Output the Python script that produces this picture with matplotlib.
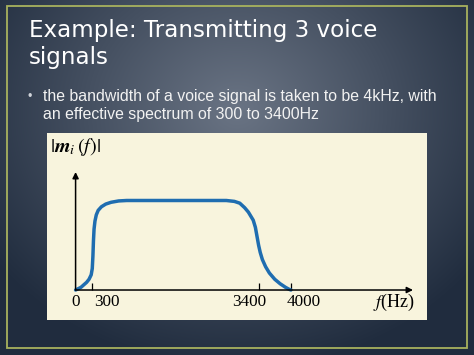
import numpy as np
import matplotlib.pyplot as plt
from matplotlib.patches import Rectangle

# spectrum |m_i(f)| (Hz, relative level)
freq_hz = [0, 100, 205, 250, 290, 310, 322, 332, 343, 360, 385, 420, 480, 560, 660, 800,
           950, 2800, 2950, 3050, 3140, 3210, 3260, 3300, 3340, 3370, 3400, 3430, 3470,
           3530, 3600, 3700, 3800, 3900, 3960, 4000]
level = [0, 0.03, 0.086, 0.12, 0.17, 0.24, 0.38, 0.55, 0.68, 0.77, 0.84, 0.89, 0.93, 0.96,
         0.98, 0.995, 1.0, 1.0, 0.99, 0.97, 0.92, 0.87, 0.82, 0.78, 0.70, 0.60, 0.50,
         0.42, 0.34, 0.26, 0.19, 0.12, 0.07, 0.03, 0.01, 0]
tick_hz = [300, 3400, 4000]
tick_labels = ['0', '300', '3400', '4000']
label_hz = [0, 300, 3400, 4000]
label_dx = [0, 15, -9, 13]   # px shift of each label from its tick, as in the slide

title_lines = ['Example: Transmitting 3 voice', 'signals']
bullet_lines = ['the bandwidth of a voice signal is taken to be 4kHz, with',
                'an effective spectrum of 300 to 3400Hz']

W, H = 474, 355
fig = plt.figure(figsize=(W / 100, H / 100), dpi=100)

# slide background
bg = fig.add_axes([0, 0, 1, 1])
yy, xx = np.mgrid[0:H, 0:W]
r = np.sqrt(((xx - 237) / 300.0) ** 2 + ((yy - 110) / 260.0) ** 2)
t = np.clip(r, 0, 1)[..., None]
c_in = np.array([0x6a, 0x74, 0x84]) / 255
c_out = np.array([0x20, 0x2c, 0x3e]) / 255
img = c_in * (1 - t) + c_out * t
bg.imshow(img, extent=(0, W, H, 0), aspect='auto')
bg.set_xlim(0, W)
bg.set_ylim(H, 0)
bg.axis('off')

bg.add_patch(Rectangle((7, 6), 460, 342, fill=False, ec='#a8b25e', lw=1.3))
bg.add_patch(Rectangle((47, 133), 380, 187, fc='#f8f4dd', ec='none'))

bg.text(29, 37, title_lines[0], color='white', fontsize=16.6, family='DejaVu Sans',
        va='baseline')
bg.text(29, 64, title_lines[1], color='white', fontsize=16.6, family='DejaVu Sans',
        va='baseline')
bg.text(28, 100, '\u2022', color='#d0d4da', fontsize=9, family='Liberation Sans', va='baseline')
bg.text(43, 101, bullet_lines[0], color='#f2f2f2', fontsize=11.4, family='Liberation Sans',
        va='baseline')
bg.text(43, 119, bullet_lines[1], color='#f2f2f2', fontsize=11.4, family='Liberation Sans',
        va='baseline')

# spectrum plot
ax = fig.add_axes([47 / W, 1 - 320 / H, 380 / W, 187 / H])
ax.set_xlim(-531, 6528)
ax.set_ylim(-0.335, 1.754)
ax.axis('off')

ax.annotate('', xy=(6268, 0), xytext=(0, 0),
            arrowprops=dict(arrowstyle='-|>', color='black', lw=1.1, mutation_scale=9,
                            shrinkA=0, shrinkB=0))
ax.annotate('', xy=(0, 1.318), xytext=(0, 0),
            arrowprops=dict(arrowstyle='-|>', color='black', lw=1.1, mutation_scale=9,
                            shrinkA=0, shrinkB=0))
ax.vlines(tick_hz, 0, 0.08, color='black', lw=0.9)
ax.plot(freq_hz, level, color='#1f6db0', lw=2.5, solid_capstyle='round',
        solid_joinstyle='round')

for lab, x, dx in zip(tick_labels, label_hz, label_dx):
    ax.annotate(lab, xy=(x, 0), xytext=(dx * 0.72, -12 * 0.72), textcoords='offset points',
                ha='center', va='center', fontsize=12.3, family='Liberation Serif')
ax.annotate(r'$f$(Hz)', xy=(6268, 0), xytext=(-19 * 0.72, -12 * 0.72),
            textcoords='offset points', ha='center', va='center', fontsize=13,
            family='Liberation Serif', math_fontfamily='stix')
ax.annotate(r'$|\mathbfit{m}_i\,(f)|$', xy=(0, 1.318), xytext=(0, 25 * 0.72),
            textcoords='offset points', ha='center', va='center', fontsize=14.5,
            math_fontfamily='stix')

fig.savefig('out.png', dpi=100)
